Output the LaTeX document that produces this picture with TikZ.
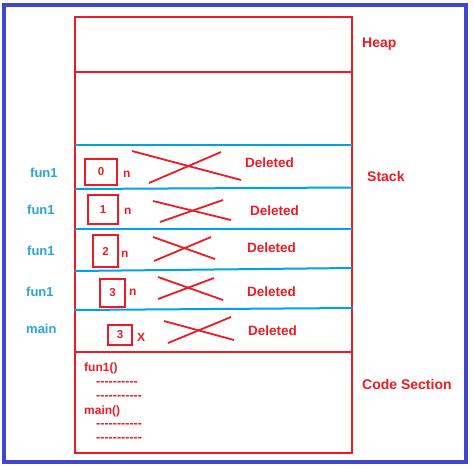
\documentclass[tikz,border=0pt]{standalone}
\usepackage{fontspec}
\setmainfont{Liberation Sans}
\newfontfamily\dashfont{Liberation Sans}[Ligatures=TeXOff]
\definecolor{pred}{HTML}{ED1C24}
\definecolor{pblue}{HTML}{00A2E8}
\definecolor{pframe}{HTML}{3F48CC}
\definecolor{lblue}{HTML}{2AA5DF}
\begin{document}
\begin{tikzpicture}[x=1pt,y=-1pt,
  redline/.style={draw=pred,line width=2pt},
  blueline/.style={draw=pblue,line width=2pt},
  seclabel/.style={text=pred,font=\fontsize{14}{16}\selectfont\bfseries,anchor=west,inner sep=0pt},
  framelabel/.style={text=lblue,font=\fontsize{13}{15}\selectfont\bfseries,anchor=west,inner sep=0pt},
  valbox/.style={draw=pred,line width=2pt,text=pred,font=\fontsize{11.5}{13}\selectfont\bfseries,inner sep=0pt,anchor=north west},
  varlabel/.style={text=pred,font=\fontsize{12}{14}\selectfont\bfseries,anchor=west,inner sep=0pt},
  dellabel/.style={text=pred,font=\fontsize{13.5}{15}\selectfont\bfseries,anchor=west,inner sep=0pt},
  codetext/.style={text=pred,font=\fontsize{12}{14}\selectfont\bfseries,anchor=west,inner sep=0pt},
  dashtext/.style={text=pred,font=\dashfont\fontsize{12.5}{14}\selectfont\bfseries,anchor=west,inner sep=0pt},
  crossline/.style={draw=pred,line width=1.8pt}
]
\useasboundingbox (0,0) rectangle (474,467);
\fill[white] (0,0) rectangle (474,467);
% outer frame
\draw[pframe,line width=4pt] (4,5) rectangle (466,462);
% main memory rectangle
\draw[redline] (75,17) rectangle (352,453);
\draw[redline] (75,72) -- (352,72);
\draw[redline] (75,352) -- (352,352);
% stack frame separators
\draw[blueline] (75,145) -- (352,145);
\draw[blueline] (75,189) -- (352,187.5);
\draw[blueline] (75,229) -- (352,229);
\draw[blueline] (75,271) -- (352,268);
\draw[blueline] (74,310) -- (353,308);
% section labels
\node[seclabel] (heap) at (362,44) {Heap};
\node[seclabel] (stack) at (367,176) {Stack};
\node[seclabel] (code) at (362,384) {Code Section};
% frame labels
\node[framelabel] (f1) at (30,173) {fun1};
\node[framelabel] (f2) at (27,210) {fun1};
\node[framelabel] (f3) at (27,251) {fun1};
\node[framelabel] (f4) at (26,292) {fun1};
\node[framelabel] (fm) at (26,329) {main};
% value boxes
\node[valbox,minimum width=32pt,minimum height=26pt] (b1) at (84,158) {0};
\node[valbox,minimum width=30pt,minimum height=29pt] (b2) at (87,194) {1};
\node[valbox,minimum width=25pt,minimum height=32pt] (b3) at (92,234) {2};
\node[valbox,minimum width=25pt,minimum height=28pt] (b4) at (99,278) {3};
\node[valbox,minimum width=24pt,minimum height=20pt] (b5) at (107,324) {3};
% variable names
\node[varlabel] (n1) at (123,174) {n};
\node[varlabel] (n2) at (124,211) {n};
\node[varlabel] (n3) at (121,254) {n};
\node[varlabel] (n4) at (129,292) {n};
\node[varlabel] (x5) at (137,337) {X};
% crosses
\draw[crossline] (132,151) -- (241,180);
\draw[crossline] (149,183) -- (221,152);
\draw[crossline] (153,201) -- (231,220);
\draw[crossline] (160,222) -- (223,200);
\draw[crossline] (153,237) -- (215,259);
\draw[crossline] (154,261) -- (211,237);
\draw[crossline] (158,277) -- (223,300);
\draw[crossline] (158,299) -- (214,278);
\draw[crossline] (164,321) -- (234,340);
\draw[crossline] (168,343) -- (231,317);
% deleted labels
\node[dellabel] (d1) at (245,163) {Deleted};
\node[dellabel] (d2) at (250,211) {Deleted};
\node[dellabel] (d3) at (247,248) {Deleted};
\node[dellabel] (d4) at (247,292) {Deleted};
\node[dellabel] (d5) at (248,331) {Deleted};
% code section
\node[codetext] (c1) at (84,368) {fun1()};
\node[dashtext] (c2) at (96,383) {----------};
\node[dashtext] (c3) at (96,397) {-----------};
\node[codetext] (c4) at (84,411) {main()};
\node[dashtext] (c5) at (96,425) {-----------};
\node[dashtext] (c6) at (96,439) {-----------};
\end{tikzpicture}
\end{document}
